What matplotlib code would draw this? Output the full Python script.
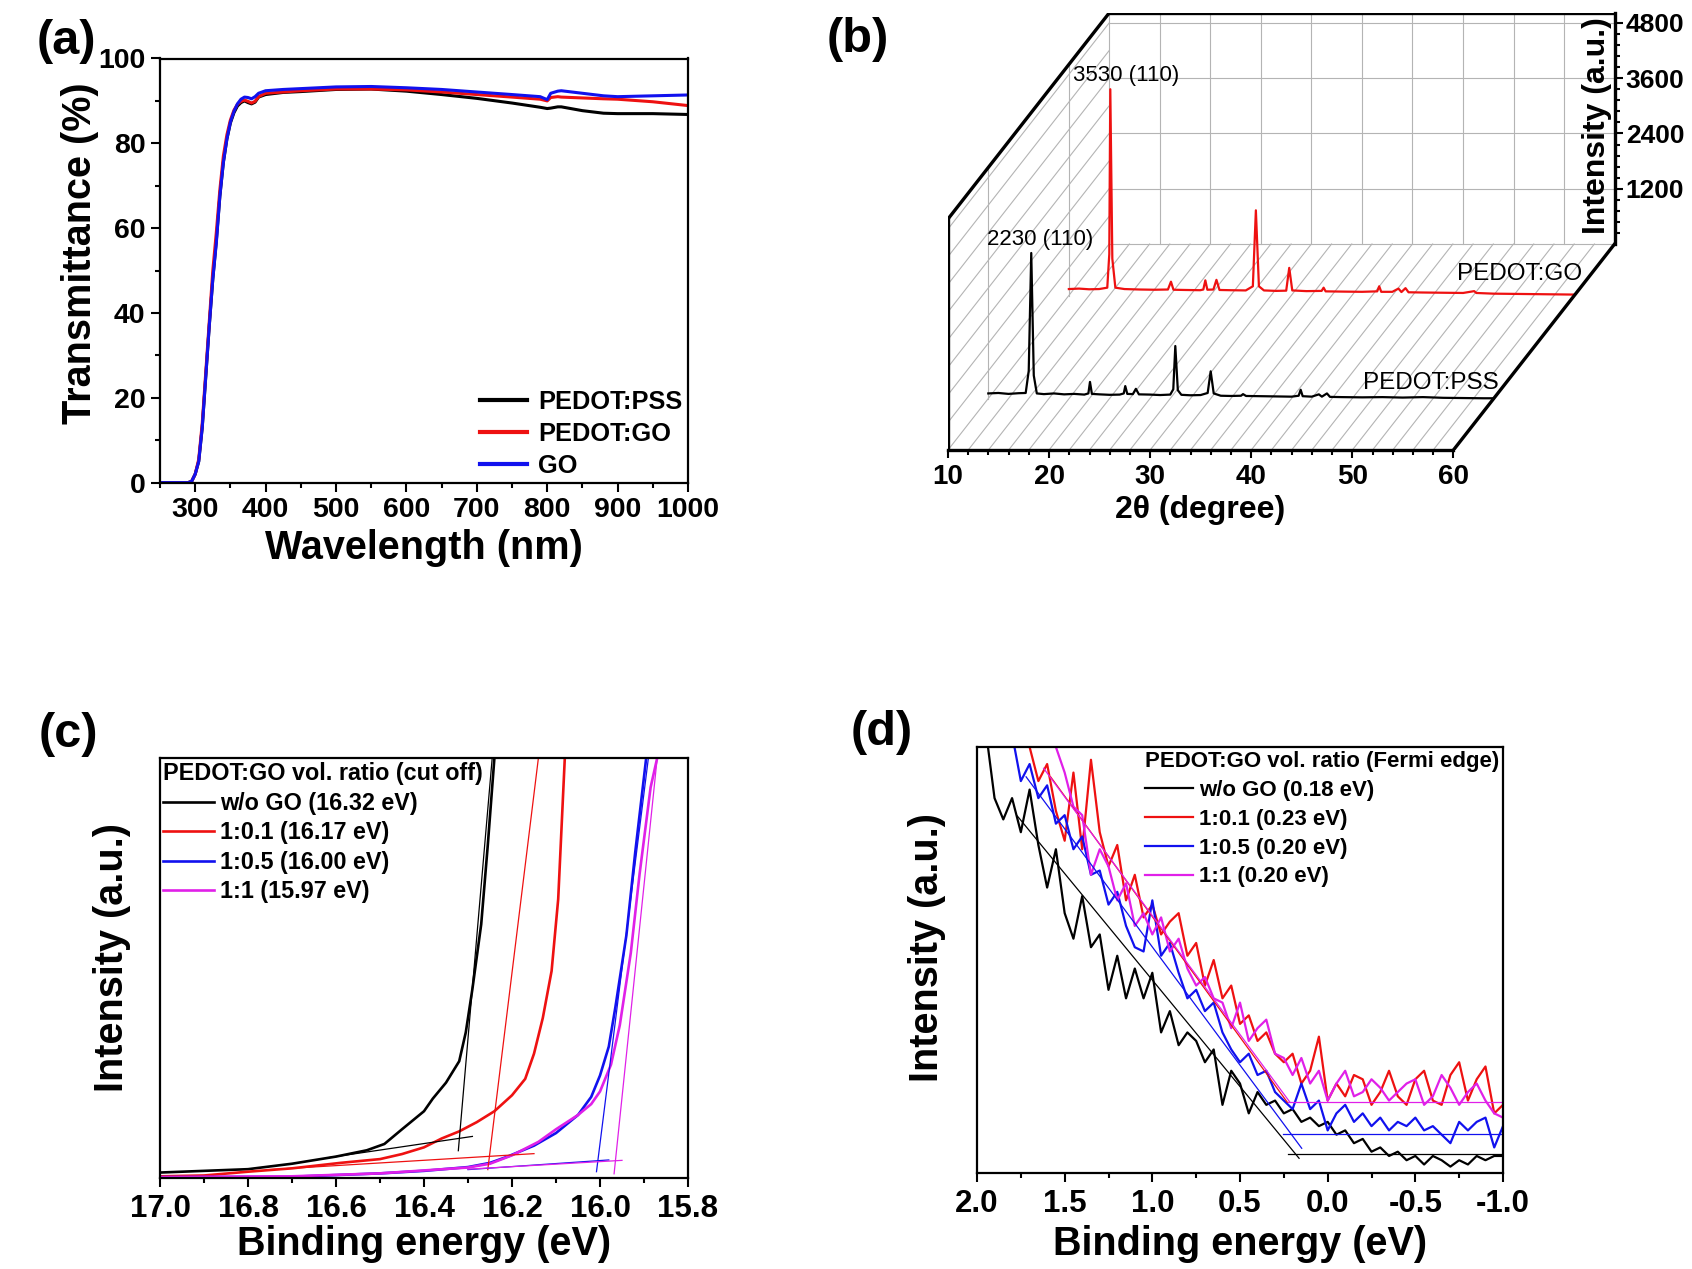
import numpy as np
import matplotlib
matplotlib.use("Agg")
import matplotlib.pyplot as plt
from matplotlib.ticker import MultipleLocator

#---------------------------------------------------
#----------------------- data ----------------------
#---------------------------------------------------
# (a) UV-vis transmittance (%)
wavelength = [250, 290, 295, 300, 305, 310, 315, 320, 325, 330, 335, 340, 345, 350,
              355, 360, 365, 370, 375, 380, 385, 390, 400, 425, 450, 500, 550, 600,
              650, 700, 750, 790, 800, 805, 815, 820, 850, 880, 900, 950, 1000]
trans_pss = [0, 0, 0.3, 2.0, 5.0, 13, 25, 37, 48, 57, 67.5, 75.5, 81, 84.8,
             87.2, 88.8, 89.6, 90.0, 89.6, 89.3, 89.7, 90.9, 91.5, 92.0, 92.2, 92.7, 92.8, 92.3,
             91.5, 90.6, 89.5, 88.5, 88.2, 88.3, 88.6, 88.6, 87.7, 87.1, 87.0, 87.0, 86.8]
trans_pedot_go = [0, 0, 0.3, 2.0, 5.5, 14, 26, 38, 50, 59, 69, 77, 82, 85.5,
                  87.8, 89.2, 89.9, 90.2, 89.9, 89.5, 89.9, 91.0, 91.8, 92.1, 92.4, 92.8, 92.8, 92.6,
                  92.1, 91.5, 90.9, 90.4, 90.0, 90.8, 91.0, 90.9, 90.7, 90.5, 90.4, 89.8, 88.9]
trans_go = [0, 0, 0.3, 2.0, 5.0, 13, 25, 37, 48, 56.5, 67.5, 75.5, 81, 85,
            87.5, 89.3, 90.4, 90.9, 90.8, 90.5, 91.0, 91.8, 92.4, 92.7, 92.9, 93.3, 93.4, 93.1,
            92.7, 92.1, 91.5, 91.0, 90.3, 91.8, 92.3, 92.4, 91.8, 91.2, 91.0, 91.2, 91.4]

# (b) XRD patterns (counts)
xrd_pss_2theta = [10.0, 11.0, 12.0, 13.0, 13.7, 14.0, 14.25, 14.5, 14.8, 15.5, 16.5, 17.5, 18.5,
                  19.5, 19.9, 20.06, 20.25, 21.0, 22.0, 23.0, 23.4, 23.55, 23.75, 24.3, 24.6, 24.9,
                  26.0, 27.0, 28.0, 28.3, 28.5, 28.75, 29.1, 30.0, 31.0, 31.7, 32.0, 32.3, 33.0,
                  34.0, 35.0, 35.2, 35.5, 37.0, 38.5, 40.0, 40.7, 40.9, 41.1, 42.0, 42.7, 43.0,
                  43.5, 43.8, 45.0, 47.0, 49.0, 51.0, 53.0, 55.0, 57.0, 59.0, 60.0]
xrd_pss_int = [110, 120, 100, 115, 120, 600, 3160, 500, 110, 95, 110, 90, 100,
               85, 110, 360, 100, 90, 80, 85, 110, 270, 100, 95, 210, 90,
               85, 75, 85, 200, 1140, 180, 80, 70, 75, 120, 590, 110, 60,
               55, 60, 95, 55, 50, 45, 40, 60, 190, 50, 40, 90, 40,
               110, 35, 30, 25, 30, 20, 30, 15, 10, 5, 5]
xrd_go_2theta = [10.0, 11.0, 12.0, 13.0, 13.8, 14.0, 14.1, 14.3, 14.6, 15.5, 17.0, 18.5, 19.8,
                 20.1, 20.35, 21.5, 23.0, 23.3, 23.5, 23.7, 24.3, 24.6, 24.9, 26.0, 27.5, 28.2,
                 28.5, 28.8, 29.3, 30.5, 31.5, 31.8, 32.1, 33.5, 35.0, 35.2, 35.4, 37.0, 39.0,
                 40.5, 40.7, 40.9, 42.0, 42.6, 42.9, 43.3, 43.6, 45.0, 47.0, 49.0, 50.1, 50.3,
                 52.0, 54.0, 56.0, 58.0, 60.0]
xrd_go_int = [140, 150, 135, 140, 170, 900, 4480, 800, 170, 140, 130, 125, 130,
              300, 125, 120, 115, 130, 330, 125, 130, 340, 120, 115, 110, 200,
              1850, 200, 110, 100, 105, 600, 110, 95, 100, 170, 90, 85, 80,
              90, 200, 80, 80, 150, 75, 160, 70, 65, 60, 55, 95, 55,
              40, 35, 30, 25, 20]
xrd_depth = {"PEDOT:PSS": 0.25, "PEDOT:GO": 0.75}

# (c) UPS secondary electron cut-off
be_c_pss = [17.0, 16.9, 16.8, 16.7, 16.6, 16.53, 16.49, 16.45, 16.4, 16.38, 16.35, 16.32,
            16.305, 16.29, 16.27, 16.255, 16.24, 16.23]
int_c_pss = [1.3, 1.7, 2.1, 3.4, 5.1, 6.6, 8.1, 11.6, 15.9, 18.9, 22.7, 27.8,
             34.7, 45, 60.4, 79.3, 100, 115]
be_c_01 = [17.0, 16.9, 16.8, 16.7, 16.59, 16.5, 16.45, 16.4, 16.36, 16.32, 16.28, 16.24,
           16.2, 16.17, 16.15, 16.13, 16.11, 16.095, 16.08, 16.07]
int_c_01 = [0.4, 0.6, 1.5, 2.3, 3.6, 4.5, 5.7, 7.3, 9.4, 11.1, 13.3, 15.9,
            19.7, 23.6, 29.6, 38.1, 49.3, 66.4, 100, 115]
be_c_05 = [17.0, 16.7, 16.5, 16.4, 16.3, 16.25, 16.21, 16.15, 16.1, 16.05, 16.02, 16.0,
           15.98, 15.965, 15.94, 15.92, 15.895, 15.885]
int_c_05 = [0.2, 0.3, 1.1, 1.7, 2.6, 3.6, 5.1, 7.7, 10.7, 15.0, 19.3, 24.4,
            31.3, 40.7, 57.8, 77.5, 100, 110]
be_c_1 = [17.0, 16.7, 16.5, 16.3, 16.25, 16.2, 16.14, 16.1, 16.05, 16.02, 16.0, 15.975,
          15.955, 15.93, 15.91, 15.885, 15.87, 15.86]
int_c_1 = [0.2, 0.4, 1.1, 2.5, 3.4, 5.4, 8.6, 11.6, 15.0, 17.6, 20.6, 27.0,
           36.4, 53.6, 72.4, 93, 100, 110]
# tangent lines ((x0, y0), (x1, y1))
fit_c = [("black", (16.62, 4.8), (16.29, 9.9)), ("black", (16.322, 6.5), (16.245, 100)),
         ("red", (16.75, 2.0), (16.15, 5.8)), ("red", (16.255, 2.0), (16.14, 100)),
         ("blue", (16.30, 2.0), (15.98, 4.3)), ("blue", (16.008, 1.5), (15.89, 100)),
         ("magenta", (16.30, 2.1), (15.95, 4.2)), ("magenta", (15.968, 1.0), (15.87, 100))]

# (d) UPS Fermi edge
be_d = [2.00, 1.95, 1.90, 1.85, 1.80, 1.75, 1.70, 1.65, 1.60, 1.55,
        1.50, 1.45, 1.40, 1.35, 1.30, 1.25, 1.20, 1.15, 1.10, 1.05,
        1.00, 0.95, 0.90, 0.85, 0.80, 0.75, 0.70, 0.65, 0.60, 0.55,
        0.50, 0.45, 0.40, 0.35, 0.30, 0.25, 0.20, 0.15, 0.10, 0.05,
        0.00, -0.05, -0.10, -0.15, -0.20, -0.25, -0.30, -0.35, -0.40, -0.45,
        -0.50, -0.55, -0.60, -0.65, -0.70, -0.75, -0.80, -0.85, -0.90, -0.95,
        -1.00]
int_d_pss = [120, 104, 88, 83, 88, 80, 90, 77, 67, 76,
             61, 55, 65, 53, 56, 43, 51, 41, 48, 41,
             47, 33, 38, 30, 33, 31, 26, 29, 16, 24,
             21, 14, 19, 16, 17, 14, 15, 12, 13, 11,
             12, 9, 10, 7, 8, 5, 6, 4, 5, 3,
             4, 2, 4, 3, 1.5, 3, 2, 4, 3, 4,
             4]
int_d_01 = [140, 135, 128, 122, 115, 108, 100, 92, 96, 85,
            78, 94, 76, 97, 80, 72, 77, 64, 70, 60,
            63, 56, 59, 61, 51, 54, 44, 50, 41, 44,
            35, 37, 31, 33, 28, 26, 28, 21, 24, 32,
            17, 21, 18, 23, 22, 16, 19, 24, 18, 16,
            22, 24, 17, 16, 23, 26, 17, 22, 25, 14,
            16]
int_d_05 = [130, 125, 118, 110, 103, 92, 96, 88, 91, 82,
            84, 76, 79, 70, 71, 63, 66, 58, 53, 52,
            64, 51, 54, 47, 41, 43, 38, 40, 33, 29,
            26, 28, 23, 24, 19, 17, 15, 21, 15, 17,
            10, 14, 16, 12, 14, 11, 13, 10, 12, 11,
            13, 10, 11, 9, 7, 12, 10, 12, 13, 6,
            11]
int_d_1 = [150, 145, 140, 132, 125, 118, 112, 106, 103, 100,
           94, 86, 84, 70, 76, 72, 64, 68, 58, 61,
           56, 60, 52, 55, 48, 44, 46, 41, 40, 34,
           40, 31, 34, 36, 28, 27, 23, 27, 21, 24,
           17, 21, 24, 18, 19, 22, 20, 17, 19, 21,
           22, 16, 18, 23, 20, 16, 19, 21, 17, 14,
           13]
fit_d = [("black", (1.77, 83.8), (0.163, 3.45)), ("black", (0.224, 4.4), (-1.0, 4.4)),
         ("blue", (1.72, 93.0), (0.148, 5.8)), ("blue", (0.253, 9.15), (-1.0, 9.15)),
         ("red", (1.58, 93.0), (0.23, 16.6)),
         ("magenta", (1.62, 95.0), (0.215, 16.6)), ("magenta", (0.224, 16.6), (-1.0, 16.6))]

#---------------------------------------------------
#---------------------- style ----------------------
#---------------------------------------------------
W, H, DPI = 1692, 1269, 100
RED = "#ee1111"
BLUE = "#1111ee"
MAGENTA = "#e020e8"
COLORS = {"black": "black", "red": RED, "blue": BLUE, "magenta": MAGENTA}

plt.rcParams['font.family'] = ['Liberation Sans', 'DejaVu Sans']
plt.rcParams['font.weight'] = 'bold'
plt.rcParams['axes.labelweight'] = 'bold'
plt.rcParams['axes.linewidth'] = 1.6
plt.rcParams['axes.unicode_minus'] = False

fig = plt.figure(figsize=(W / DPI, H / DPI), dpi=DPI)


def px_axes(left, top, right, bottom):
    # axes placed from pixel edges of the target picture
    return fig.add_axes([left / W, 1 - bottom / H, (right - left) / W, (bottom - top) / H])


def fig_text(x, y, s, **kw):
    fig.text(x / W, 1 - y / H, s, **kw)


#---------------------------------------------------
#-------------------- panel (a) --------------------
#---------------------------------------------------
ax_a = px_axes(160, 58.5, 688, 482.6)
ax_a.plot(wavelength, trans_pss, color="black", lw=2.2, label="PEDOT:PSS")
ax_a.plot(wavelength, trans_pedot_go, color=RED, lw=2.2, label="PEDOT:GO")
ax_a.plot(wavelength, trans_go, color=BLUE, lw=2.2, label="GO")
ax_a.set_xlim(250, 1000)
ax_a.set_ylim(0, 100)
ax_a.set_xticks(range(300, 1001, 100))
ax_a.xaxis.set_minor_locator(MultipleLocator(50))
ax_a.yaxis.set_major_locator(MultipleLocator(20))
ax_a.yaxis.set_minor_locator(MultipleLocator(10))
ax_a.tick_params(which="both", direction="out", width=1.5, labelsize=20.5, pad=4)
ax_a.tick_params(which="major", length=6.5)
ax_a.tick_params(which="minor", length=3.5)
ax_a.set_xlabel("Wavelength (nm)", fontsize=28.5, va="center")
ax_a.xaxis.set_label_coords(0.5, -0.154)
ax_a.set_ylabel("Transmittance (%)", fontsize=28.5, va="center")
ax_a.yaxis.set_label_coords(-0.152, 0.54)
leg = ax_a.legend(loc="lower right", bbox_to_anchor=(0.99, 0.012), frameon=False,
                  prop={"size": 18.3, "weight": "bold"}, handlelength=1.85,
                  handletextpad=0.45, labelspacing=0.31, borderpad=0, borderaxespad=0)
for line in leg.get_lines():
    line.set_linewidth(3.0)

#---------------------------------------------------
#-------------------- panel (b) --------------------
#---------------------------------------------------
# oblique 3D look: each pattern is shifted back by a depth fraction
DEPTH_X = 15.94   # degrees of 2theta per full depth
DEPTH_Y = 4474    # counts per full depth
ZTOP = 5017
GREY = "#b4b4b4"

ax_b = px_axes(948, 13, 1614.6, 450)
ax_b.set_xlim(10, 60 + DEPTH_X)
ax_b.set_ylim(0, DEPTH_Y + ZTOP)
ax_b.patch.set_visible(False)


def proj(tt, depth, z):
    return np.asarray(tt, float) + depth * DEPTH_X, np.asarray(z, float) + depth * DEPTH_Y


def seg(p0, p1, **kw):
    x0, y0 = proj(*p0)
    x1, y1 = proj(*p1)
    ax_b.plot([x0, x1], [y0, y1], solid_capstyle="projecting", **kw)


# grid on back wall
for tt in range(10, 60, 5):
    seg((tt, 1, 0), (tt, 1, ZTOP), color=GREY, lw=0.8)
for z in [0, 1200, 2400, 3600, 4800]:
    seg((10, 1, z), (60, 1, z), color=GREY, lw=0.8)
# grid on floor
for tt in range(10, 60, 2):
    seg((tt, 0, 0), (tt, 1, 0), color=GREY, lw=0.8)
# grid on left wall
for z in range(600, 4801, 600):
    seg((10, 0, z), (10, 1, z), color=GREY, lw=0.8)
for d in xrd_depth.values():
    seg((10, d, 0), (10, d, ZTOP), color=GREY, lw=0.8)

# patterns
xs, ys = proj(xrd_pss_2theta, xrd_depth["PEDOT:PSS"], xrd_pss_int)
ax_b.plot(xs, ys, color="black", lw=1.6)
xs, ys = proj(xrd_go_2theta, xrd_depth["PEDOT:GO"], xrd_go_int)
ax_b.plot(xs, ys, color=RED, lw=1.6)

# outer frame
frame_kw = dict(color="black", lw=2.4)
seg((10, 0, 0), (10, 0, ZTOP), **frame_kw)
seg((10, 0, ZTOP), (10, 1, ZTOP), **frame_kw)
seg((10, 1, ZTOP), (60, 1, ZTOP), **frame_kw)
seg((60, 0, 0), (60, 1, 0), **frame_kw)

for side in ["left", "top"]:
    ax_b.spines[side].set_visible(False)
ax_b.spines["bottom"].set_bounds(10, 60)
ax_b.spines["bottom"].set_linewidth(2.4)
ax_b.spines["right"].set_bounds(DEPTH_Y, DEPTH_Y + ZTOP)
ax_b.spines["right"].set_linewidth(2.4)
ax_b.set_xticks(range(10, 61, 10))
ax_b.set_xticks(range(10, 61, 2), minor=True)
z_ticks = [1200, 2400, 3600, 4800]
ax_b.set_yticks([DEPTH_Y + z for z in z_ticks])
ax_b.set_yticklabels([str(z) for z in z_ticks])
ax_b.set_yticks([DEPTH_Y + z for z in range(240, ZTOP, 240)], minor=True)
ax_b.tick_params(axis="y", which="both", left=False, labelleft=False, right=True,
                 labelright=True, direction="out", width=1.5, labelsize=19, pad=2)
ax_b.tick_params(axis="x", which="both", direction="out", width=1.5, labelsize=20, pad=4)
ax_b.tick_params(which="major", length=6)
ax_b.tick_params(which="minor", length=3.5)
ax_b.set_xlabel("2\u03b8 (degree)", fontsize=23, va="center")
ax_b.xaxis.set_label_coords((1200 - 948) / (1614.6 - 948), -(510 - 450) / (450 - 13))

fig_text(1597, 126, "Intensity (a.u.)", fontsize=23, rotation=90, ha="center", va="center")
fig_text(1073, 75, "3530 (110)", fontsize=16, fontweight="normal", ha="left", va="center")
fig_text(987, 240, "2230 (110)", fontsize=16, fontweight="normal", ha="left", va="center")
fig_text(1582, 274, "PEDOT:GO", fontsize=17.5, fontweight="normal", ha="right", va="center")
fig_text(1499, 383, "PEDOT:PSS", fontsize=17.5, fontweight="normal", ha="right", va="center")

#---------------------------------------------------
#-------------------- panel (c) --------------------
#---------------------------------------------------
ax_c = px_axes(160, 758, 688, 1178)
ax_c.plot(be_c_pss, int_c_pss, color="black", lw=1.9, label="w/o GO (16.32 eV)")
ax_c.plot(be_c_01, int_c_01, color=RED, lw=1.9, label="1:0.1 (16.17 eV)")
ax_c.plot(be_c_05, int_c_05, color=BLUE, lw=1.9, label="1:0.5 (16.00 eV)")
ax_c.plot(be_c_1, int_c_1, color=MAGENTA, lw=1.9, label="1:1 (15.97 eV)")
for c, p0, p1 in fit_c:
    ax_c.plot([p0[0], p1[0]], [p0[1], p1[1]], color=COLORS[c], lw=0.9)
ax_c.set_xlim(17.0, 15.8)
ax_c.set_ylim(0, 100)
c_ticks = [17.0, 16.8, 16.6, 16.4, 16.2, 16.0, 15.8]
ax_c.set_xticks(c_ticks)
ax_c.set_xticklabels(["%.1f" % t for t in c_ticks])
ax_c.xaxis.set_minor_locator(MultipleLocator(0.1))
ax_c.set_yticks([])
ax_c.tick_params(which="both", direction="out", width=1.5, labelsize=22.5, pad=5)
ax_c.tick_params(which="major", length=6.5)
ax_c.tick_params(which="minor", length=3.5)
ax_c.set_xlabel("Binding energy (eV)", fontsize=28.5, va="center")
ax_c.xaxis.set_label_coords(0.5, -0.157)
ax_c.set_ylabel("Intensity (a.u.)", fontsize=28.5, va="center")
ax_c.yaxis.set_label_coords(-0.091, 0.524)
ax_c.legend(loc="upper left", bbox_to_anchor=(0.005, 0.99), frameon=False,
            title="PEDOT:GO vol. ratio (cut off)", alignment="left",
            title_fontproperties={"size": 16.8, "weight": "bold"},
            prop={"size": 16.8, "weight": "bold"}, handlelength=2.2,
            handletextpad=0.27, labelspacing=0.28, borderpad=0, borderaxespad=0)

#---------------------------------------------------
#-------------------- panel (d) --------------------
#---------------------------------------------------
ax_d = px_axes(977, 747, 1503, 1173)
ax_d.plot(be_d, int_d_pss, color="black", lw=1.6, label="w/o GO (0.18 eV)")
ax_d.plot(be_d, int_d_01, color=RED, lw=1.6, label="1:0.1 (0.23 eV)")
ax_d.plot(be_d, int_d_05, color=BLUE, lw=1.6, label="1:0.5 (0.20 eV)")
ax_d.plot(be_d, int_d_1, color=MAGENTA, lw=1.6, label="1:1 (0.20 eV)")
for c, p0, p1 in fit_d:
    ax_d.plot([p0[0], p1[0]], [p0[1], p1[1]], color=COLORS[c], lw=0.9)
ax_d.set_xlim(2.0, -1.0)
ax_d.set_ylim(0, 100)
d_ticks = [2.0, 1.5, 1.0, 0.5, 0.0, -0.5, -1.0]
ax_d.set_xticks(d_ticks)
ax_d.set_xticklabels(["%.1f" % t for t in d_ticks])
ax_d.xaxis.set_minor_locator(MultipleLocator(0.25))
ax_d.set_yticks([])
ax_d.tick_params(which="both", direction="out", width=1.5, labelsize=22.5, pad=5)
ax_d.tick_params(which="major", length=6.5)
ax_d.tick_params(which="minor", length=3.5)
ax_d.set_xlabel("Binding energy (eV)", fontsize=28.5, va="center")
ax_d.xaxis.set_label_coords(0.5, -0.167)
ax_d.set_ylabel("Intensity (a.u.)", fontsize=28.5, va="center")
ax_d.yaxis.set_label_coords(-0.095, 0.53)
ax_d.legend(loc="upper right", bbox_to_anchor=(0.992, 0.99), frameon=False,
            title="PEDOT:GO vol. ratio (Fermi edge)", alignment="left",
            title_fontproperties={"size": 16, "weight": "bold"},
            prop={"size": 16, "weight": "bold"}, handlelength=2.2,
            handletextpad=0.27, labelspacing=0.35, borderpad=0, borderaxespad=0)

#---------------------------------------------------
#------------------- panel labels ------------------
#---------------------------------------------------
for lbl, x, y in [("(a)", 66, 42), ("(b)", 858, 39), ("(c)", 68, 735), ("(d)", 882, 733)]:
    fig_text(x, y, lbl, fontsize=35, ha="center", va="center")

fig.savefig("out.png", dpi=DPI)
